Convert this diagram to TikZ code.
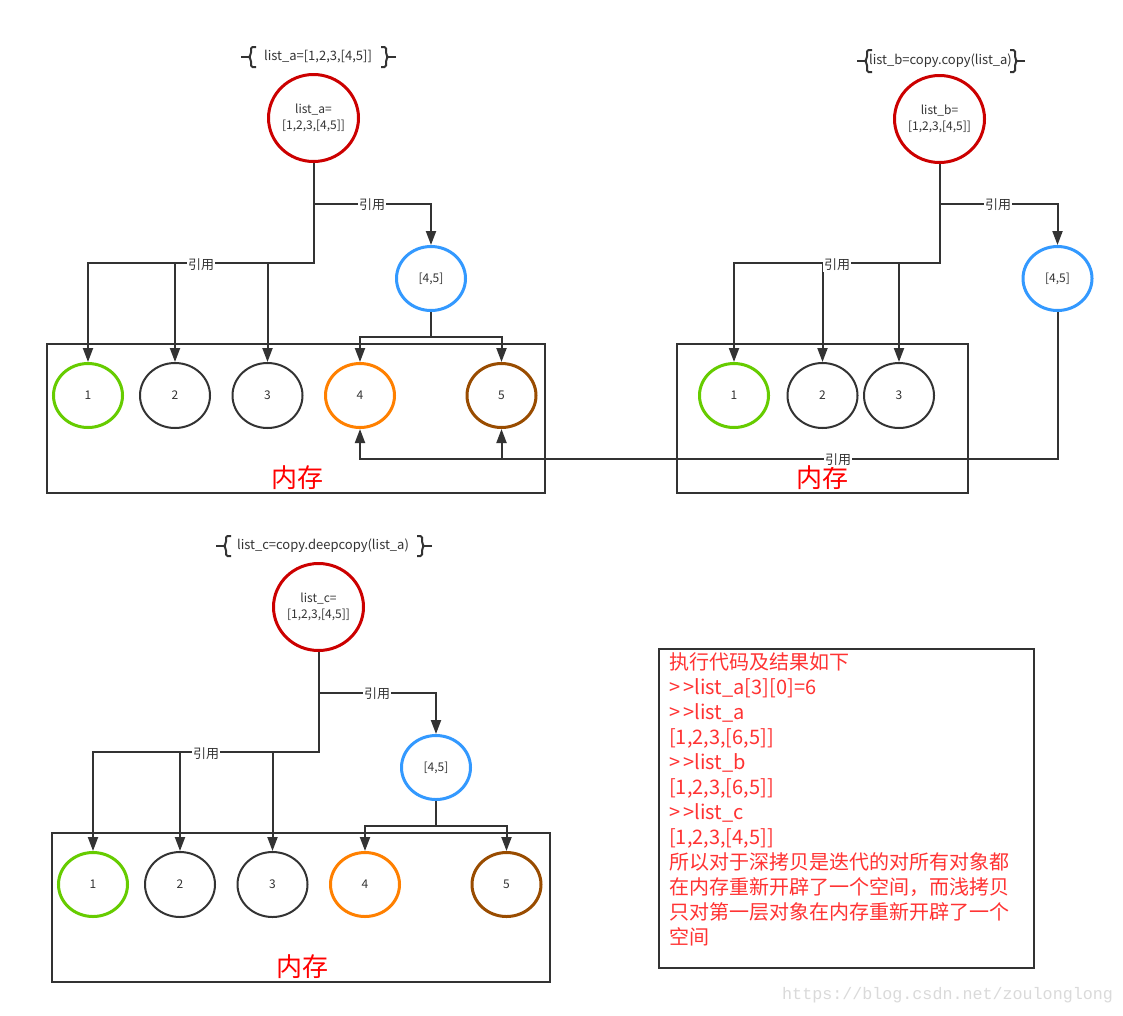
\documentclass[tikz,border=0pt]{standalone}
\usepackage{fontspec}
\setmainfont{Noto Sans CJK SC}
\newfontfamily\wmfont{Liberation Mono}
\usetikzlibrary{arrows.meta,shapes.geometric}
\definecolor{lc}{HTML}{333333}
\definecolor{cred}{HTML}{CC0000}
\definecolor{cgreen}{HTML}{66CC00}
\definecolor{cblue}{HTML}{3399FF}
\definecolor{corange}{HTML}{FF8000}
\definecolor{cbrown}{HTML}{994C00}
\definecolor{tred}{HTML}{FF3333}
\definecolor{wm}{HTML}{DADADA}
\newcommand\lbrc[3]{%
  \draw[brc] (#1-10,#2) -- (#1-2,#2);
  \draw[brc] (#1+5,#2-#3) -- (#1,#2-#3) -- (#1,#2-3) -- (#1-2,#2) -- (#1,#2+3) -- (#1,#2+#3) -- (#1+5,#2+#3);}
\newcommand\rbrc[3]{%
  \draw[brc] (#1+10,#2) -- (#1+2,#2);
  \draw[brc] (#1-5,#2-#3) -- (#1,#2-#3) -- (#1,#2-3) -- (#1+2,#2) -- (#1,#2+3) -- (#1,#2+#3) -- (#1-5,#2+#3);}
\tikzset{
  cir/.style={ellipse, draw, inner sep=0, text=lc, font=\fontsize{12}{16}\selectfont, align=center},
  listc/.style={cir, draw=cred, line width=3, minimum width=90, minimum height=87},
  subc/.style={cir, draw=cblue, line width=3, minimum width=69, minimum height=64},
  numc/.style={cir, line width=3, minimum width=69, minimum height=64},
  numk/.style={cir, draw=lc, line width=2, minimum width=70, minimum height=65},
  conn/.style={draw=lc, line width=2, -{Triangle[length=14pt,width=10pt]}},
  membox/.style={draw=lc, line width=2},
  lab/.style={fill=white, inner sep=1pt, text=lc, font=\fontsize{13}{15}\selectfont},
  ann/.style={inner sep=0, text=lc, font=\fontsize{13}{15}\selectfont},
  mem/.style={text=red, font=\fontsize{26}{30}\selectfont, inner sep=0},
  brc/.style={draw=lc, line width=2, rounded corners=1.5},
}
\begin{document}
\begin{tikzpicture}[x=1pt,y=-1pt]
\useasboundingbox[fill=white] (0,0) rectangle (1123,1015);

% ---------- top-left: list_a ----------
\draw[membox] (47,344) rectangle (545,493);
\node[ann] (annA) at (318,57) {list\_a=[1,2,3,[4,5]]};
\lbrc{251}{57}{10}
\rbrc{386}{57}{10}
\node[listc] (la) at (313.5,118) {list\_a=\\{}[1,2,3,[4,5]]};
\node[subc] (a45) at (431,278.5) {[4,5]};
\node[numc, draw=cgreen] (a1) at (88,395.5) {1};
\node[numk] (a2) at (175,395.5) {2};
\node[numk] (a3) at (267.5,395.5) {3};
\node[numc, draw=corange] (a4) at (360,395.5) {4};
\node[numc, draw=cbrown] (a5) at (501.5,395.5) {5};
\node[mem] (memA) at (297,478) {内存};
\coordinate (hA1) at (0,204);
\coordinate (hA2) at (0,263);
\coordinate (hA3) at (0,337);
\draw[conn] (la.south) -- (la.south |- hA2) -| (a1.north);
\draw[conn] (a2.north |- hA2) -- (a2.north);
\draw[conn] (a3.north |- hA2) -- (a3.north);
\draw[conn] (la.south |- hA1) -| (a45.north);
\draw[conn] (a45.south) -- (a45.south |- hA3) -| (a4.north);
\draw[conn] (a45.south |- hA3) -| (a5.north);
\node[lab] (lA1) at (372,205) {引用};
\node[lab] (lA2) at (201,265) {引用};

% ---------- top-right: list_b ----------
\draw[membox] (677,344) rectangle (968,493);
\node[ann] (annB) at (940.5,61) {list\_b=copy.copy(list\_a)};
\lbrc{867}{61}{11}
\rbrc{1015}{61}{11}
\node[listc] (lb) at (939.5,119) {list\_b=\\{}[1,2,3,[4,5]]};
\node[subc] (b45) at (1057.5,278.5) {[4,5]};
\node[numc, draw=cgreen] (b1) at (734,395.5) {1};
\node[numk] (b2) at (822.5,395.5) {2};
\node[numk] (b3) at (899,395.5) {3};
\node[mem] (memB) at (822,478) {内存};
\coordinate (hB1) at (0,204);
\coordinate (hB2) at (0,263);
\coordinate (hL) at (0,459);
\draw[conn] (lb.south) -- (lb.south |- hB2) -| (b1.north);
\draw[conn] (b2.north |- hB2) -- (b2.north);
\draw[conn] (b3.north |- hB2) -- (b3.north);
\draw[conn] (lb.south |- hB1) -| (b45.north);
\draw[conn] (b45.south) -- (b45.south |- hL) -| (a4.south);
\draw[conn] (a5.south |- hL) -- (a5.south);
\node[lab] (lB1) at (998,205) {引用};
\node[lab] (lB2) at (837,265) {引用};
\node[lab] (lB3) at (838,460) {引用};

% ---------- bottom: list_c ----------
\draw[membox] (52,833) rectangle (550,982);
\node[ann] (annC) at (323,546) {list\_c=copy.deepcopy(list\_a)};
\lbrc{226}{546}{10}
\rbrc{422}{546}{10}
\node[listc] (lc) at (318.5,607) {list\_c=\\{}[1,2,3,[4,5]]};
\node[subc] (c45) at (436,767.5) {[4,5]};
\node[numc, draw=cgreen] (c1) at (93,884.5) {1};
\node[numk] (c2) at (180,884.5) {2};
\node[numk] (c3) at (272.5,884.5) {3};
\node[numc, draw=corange] (c4) at (365,884.5) {4};
\node[numc, draw=cbrown] (c5) at (506.5,884.5) {5};
\node[mem] (memC) at (302,967) {内存};
\coordinate (hC1) at (0,693);
\coordinate (hC2) at (0,752);
\coordinate (hC3) at (0,826);
\draw[conn] (lc.south) -- (lc.south |- hC2) -| (c1.north);
\draw[conn] (c2.north |- hC2) -- (c2.north);
\draw[conn] (c3.north |- hC2) -- (c3.north);
\draw[conn] (lc.south |- hC1) -| (c45.north);
\draw[conn] (c45.south) -- (c45.south |- hC3) -| (c4.north);
\draw[conn] (c45.south |- hC3) -| (c5.north);
\node[lab] (lC1) at (377,694) {引用};
\node[lab] (lC2) at (206,754) {引用};

% ---------- result text box ----------
\draw[membox] (659,649) rectangle (1034,968);
\node[anchor=north west, align=left, inner sep=0, text=tred,
      font=\fontsize{20}{25}\selectfont] (res) at (669,652)
{执行代码及结果如下\\
>\,>list\_a[3][0]=6\\
>\,>list\_a\\{}%
[1,2,3,[6,5]]\\
>\,>list\_b\\{}%
[1,2,3,[6,5]]\\
>\,>list\_c\\{}%
[1,2,3,[4,5]]\\
所以对于深拷贝是迭代的对所有对象都\\
在内存重新开辟了一个空间，而浅拷贝\\
只对第一层对象在内存重新开辟了一个\\
空间};

% ---------- watermark ----------
\node[anchor=west, inner sep=0, text=wm, font=\wmfont\fontsize{16.7}{20}\selectfont] (wmk) at (782,995) {https://blog.csdn.net/zoulonglong};
\end{tikzpicture}
\end{document}
